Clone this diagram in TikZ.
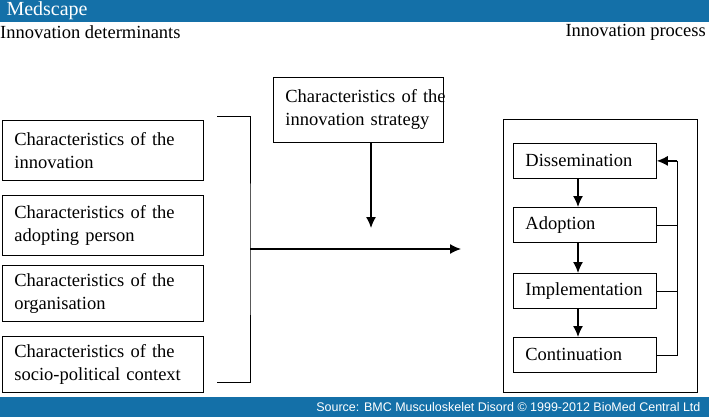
\documentclass[tikz,border=0pt]{standalone}
\usepackage{fontspec}
\setmainfont{Liberation Serif}
\newfontfamily\bannerfont{Liberation Sans}
\definecolor{medblue}{HTML}{1470A8}
\tikzset{
  box/.style={draw, line width=0.8pt, inner sep=0pt, anchor=north west, text width=#1, align=left},
  stage/.style={draw, line width=0.8pt, minimum width=143pt, minimum height=35pt, inner xsep=12pt, anchor=north west, align=left, text width=119pt},
  link/.style={line width=0.8pt},
  flow/.style={line width=1.3pt, -{Latex[length=11pt,width=10pt]}}
}
\usetikzlibrary{arrows.meta,positioning}
\begin{document}
\begin{tikzpicture}[x=1pt,y=-1pt,font=\fontsize{18.5}{23}\selectfont]
\useasboundingbox (0,0) rectangle (709,417);
\fill[medblue] (0,0) rectangle (709,22);
\fill[medblue] (0,397) rectangle (709,417);
\node[anchor=west,text=white,font=\fontsize{20}{20}\selectfont] (brand) at (3,11) {Medscape};
\node[anchor=east,text=white,font=\bannerfont\fontsize{12.5}{12.5}\selectfont] (source) at (704,407) {Source: BMC Musculoskelet Disord © 1999-2012 BioMed Central Ltd};
\node[anchor=west,inner sep=0pt] (hdet) at (0,32) {Innovation determinants};
\node[anchor=east,inner sep=0pt] (hproc) at (706,32) {Innovation process};
% determinants
\node[draw,line width=0.8pt,anchor=north west,minimum width=201pt,minimum height=60pt,inner xsep=12pt,text width=177pt,align=left] (inno) at (2,120) {Characteristics of the\\innovation};
\node[draw,line width=0.8pt,anchor=north west,minimum width=201pt,minimum height=60pt,inner xsep=12pt,text width=177pt,align=left] (pers) at (2,195) {Characteristics of the\\adopting person};
\node[draw,line width=0.8pt,anchor=north west,minimum width=201pt,minimum height=56pt,inner xsep=12pt,text width=177pt,align=left] (orga) at (2,265) {Characteristics of the\\organisation};
\node[draw,line width=0.8pt,anchor=north west,minimum width=201pt,minimum height=56pt,inner xsep=12pt,text width=177pt,align=left] (socio) at (2,336) {Characteristics of the\\socio-political context};
\node[draw,line width=0.8pt,anchor=north west,minimum width=170pt,minimum height=65pt,inner xsep=12pt,text width=146pt,align=left,font=\fontsize{18.5}{23}\selectfont\raggedright] (strat) at (273,77) {Characteristics~of~the\\innovation strategy};
\coordinate (btop) at (217,116);
\coordinate (bbot) at (217,382);
\coordinate (bmid) at (250,249);
\coordinate (goal) at (461,249);
\coordinate (sdrop) at (371,228);
\draw[link] (btop) -| (bmid) |- (bbot);
\draw[flow] (bmid) -- (goal);
\draw[flow] (strat.south -| sdrop) -- (sdrop);
% process
\node[draw,line width=0.8pt,anchor=north west,minimum width=194pt,minimum height=273pt] (proc) at (503,119) {};
\node[stage] (diss) at (513,143) {Dissemination};
\node[stage] (adop) at (513,207) {Adoption};
\node[stage] (impl) at (513,273) {Implementation};
\node[stage] (cont) at (513,337) {Continuation};
\draw[flow] (diss.south -| 578,0) -- (adop.north -| 578,0);
\draw[flow] (adop.south -| 578,0) -- (impl.north -| 578,0);
\draw[flow] (impl.south -| 578,0) -- (cont.north -| 578,0);
\coordinate (loop) at (677,0);
\draw[link] (adop.east) -- (adop.east -| loop);
\draw[link] (impl.east) -- (impl.east -| loop);
\draw[link] (cont.east) -- (cont.east -| loop) -- (diss.east -| loop);
\draw[flow] (diss.east -| loop) -- (diss.east);
\end{tikzpicture}
\end{document}
